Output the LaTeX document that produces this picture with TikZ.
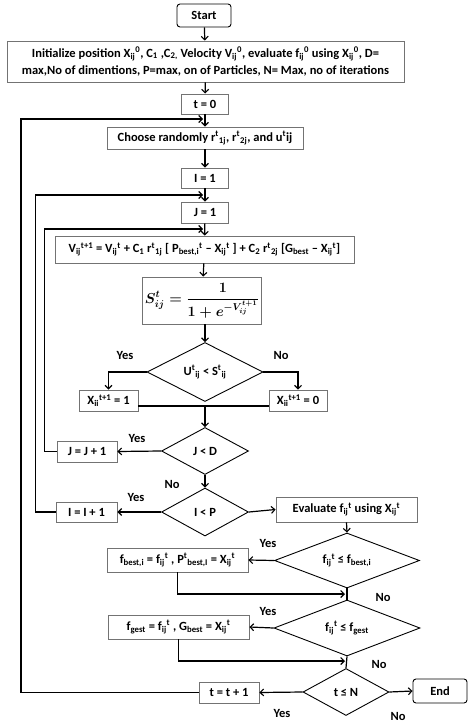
\documentclass[tikz,border=0pt]{standalone}
\usepackage{fontspec}
\setmainfont{Carlito}
\usetikzlibrary{arrows.meta,shapes.geometric}

\newcommand{\sbp}[2]{\textsubscript{#1}\textsuperscript{#2}}
\newcommand{\psb}[2]{\textsuperscript{#1}\textsubscript{#2}}
\newsavebox{\sigbox}

\tikzset{
	procbox/.style={draw=black!55,line width=0.9pt,rectangle,inner sep=2pt,align=center},
	termbox/.style={draw=black,line width=0.9pt,rectangle,rounded corners=3pt,inner sep=2pt},
	decision/.style={draw=black,line width=0.9pt,diamond,aspect=2,inner sep=0pt},
	lbl/.style={inner sep=0pt},
	flow/.style={line width=1.2pt,-{Straight Barb[length=3.5pt,width=7pt,line width=1.1pt]}},
	link/.style={line width=1.2pt}
}

\begin{document}
\sbox{\sigbox}{\fontsize{14}{16}\selectfont\boldmath$\displaystyle S_{ij}^{t}=\frac{1}{1+e^{-V_{ij}^{\raisebox{1pt}{$\scriptscriptstyle t+1$}}}}$}
\begin{tikzpicture}[x=1pt,y=-1pt,font=\bfseries\fontsize{12.5}{17}\selectfont]
	\useasboundingbox (0,0) rectangle (474,727);

	\node[termbox,minimum width=54pt,minimum height=23pt] (start) at (204,15.5) {Start};
	\node[procbox,minimum width=397pt,minimum height=41pt] (init) at (205.5,61.5) {Initialize position X\sbp{ij}{0}, C\textsubscript{1} ,C\textsubscript{2,} Velocity V\sbp{ij}{0}, evaluate f\sbp{ij}{0} using X\sbp{ij}{0}, D=\\max,No of dimentions, P=max, on of Particles, N= Max, no of iterations};
	\node[procbox,minimum width=47pt,minimum height=20pt] (t0) at (205,104) {t = 0};
	\node[procbox,minimum width=196pt,minimum height=22pt] (choose) at (205,138) {Choose randomly r\psb{t}{1j}, r\psb{t}{2j}, and u\textsuperscript{t}ij};
	\node[procbox,minimum width=47pt,minimum height=20pt] (i1) at (205,178) {I = 1};
	\node[procbox,minimum width=47pt,minimum height=21pt] (j1) at (205,212.5) {J = 1};
	\node[procbox,minimum width=299pt,minimum height=27pt] (vel) at (204.5,249.5) {V\sbp{ij}{t+1} = V\sbp{ij}{t} + C\textsubscript{1} r\psb{t}{1j} [ P\sbp{best,i}{t} -- X\sbp{ij}{t} ] + C\textsubscript{2} r\psb{t}{2j} [G\textsubscript{best} -- X\sbp{ij}{t}]};
	\node[procbox,minimum width=110pt,minimum height=47pt] (sig) at (202,300.5) {\usebox{\sigbox}};

	\node[decision,minimum width=116pt,minimum height=59pt] (udec) at (205,372) {U\psb{t}{ij} < S\psb{t}{ij}};
	\node[procbox,minimum width=59pt,minimum height=21pt] (x1) at (108.5,400.5) {X\sbp{ii}{t+1} = 1};
	\node[procbox,minimum width=58pt,minimum height=21pt] (x0) at (298,400.5) {X\sbp{ii}{t+1} = 0};
	\coordinate (mrg) at (205,406);

	\node[decision,minimum width=87pt,minimum height=47pt] (jdec) at (205,451) {J < D};
	\node[procbox,minimum width=60pt,minimum height=21pt] (jinc) at (87,451.5) {J = J + 1};
	\node[decision,minimum width=87pt,minimum height=48pt] (pdec) at (205,512) {I < P};
	\node[procbox,minimum width=61pt,minimum height=20pt] (iinc) at (86.5,512) {I = I + 1};
	\node[procbox,minimum width=141pt,minimum height=25pt] (eval) at (346.5,509.5) {Evaluate f\sbp{ij}{t} using X\sbp{ij}{t}};

	\node[decision,minimum width=145pt,minimum height=55pt] (bdec) at (347,560.5) {f\sbp{ij}{t} ≤ f\textsubscript{best,i}};
	\node[procbox,minimum width=141pt,minimum height=24pt] (pbest) at (177.5,560) {f\textsubscript{best,i} = f\sbp{ij}{t} , P\psb{t}{best,I} = X\sbp{ij}{t}};
	\node[decision,minimum width=146pt,minimum height=56pt] (gdec) at (347,628) {f\sbp{ij}{t} ≤ f\textsubscript{gest}};
	\node[procbox,minimum width=141pt,minimum height=24pt] (gbest) at (178.5,627) {f\textsubscript{gest} = f\sbp{ij}{t} , G\textsubscript{best} = X\sbp{ij}{t}};
	\node[decision,minimum width=86pt,minimum height=47pt] (ndec) at (346,692) {t ≤ N};
	\node[procbox,minimum width=60pt,minimum height=21pt] (tinc) at (229,692.5) {t = t + 1};
	\node[termbox,minimum width=54pt,minimum height=24pt] (end) at (440,691) {End};

	% loop targets
	\coordinate (tloop) at (203,119);
	\coordinate (iloop) at (203,195);
	\coordinate (jloop) at (203,229);
	\coordinate (bjoin) at (345,594);
	\coordinate (gjoin) at (345,661);

	% main line
	\draw[flow] (start) -- (init);
	\draw[flow] (init) -- (t0);
	\draw[flow] (t0) -- (choose);
	\draw[flow] (choose) -- (i1);
	\draw[flow] (i1) -- (j1);
	\draw[flow] (j1) -- (vel);
	\draw[flow] (vel) -- (sig);
	\draw[flow] (sig.south -| udec.north) -- (udec.north);
	\draw[flow] (udec.west) -| (x1.north);
	\draw[flow] (udec.east) -| (x0.north);
	\draw[link] (x1.east |- mrg) -- (x0.west |- mrg);
	\draw[flow] (mrg) -- (jdec.north);
	\draw[flow] (jdec.west) -- (jinc.east);
	\draw[flow] (jdec.south) -- (pdec.north);
	\draw[flow] (pdec.west) -- (iinc.east);
	\draw[flow] (pdec.east) -- (eval.west);
	\draw[flow] (eval.south) -- (bdec.north);
	\draw[flow] (bdec.west) -- (pbest.east);
	\draw[flow] (pbest.south) |- (bjoin);
	\draw[link] (bdec.south) -- (gdec.north);
	\draw[flow] (gdec.west) -- (gbest.east);
	\draw[flow] (gbest.south) |- (gjoin);
	\draw[link] (gdec.south) -- (ndec.north);
	\draw[flow] (ndec.east) -- (end.west);
	\draw[flow] (ndec.west) -- (tinc.east);

	% loops back
	\draw[flow] (jinc.west) -- ++(-12,0) |- (jloop);
	\draw[flow] (iinc.west) -- ++(-20,0) |- (iloop);
	\draw[flow] (tinc.west) -- (21,692.5) |- (tloop);

	% branch labels
	\node[lbl] (y1) at (125,355) {Yes};
	\node[lbl] (n1) at (281,355) {No};
	\node[lbl] (y2) at (137,438) {Yes};
	\node[lbl] (n2) at (172,484) {No};
	\node[lbl] (y3) at (136,497) {Yes};
	\node[lbl] (y4) at (268,543) {Yes};
	\node[lbl] (n4) at (383,597) {No};
	\node[lbl] (y5) at (268,611) {Yes};
	\node[lbl] (n5) at (379,664) {No};
	\node[lbl] (y6) at (282,713) {Yes};
	\node[lbl] (n6) at (398,716) {No};
\end{tikzpicture}
\end{document}
